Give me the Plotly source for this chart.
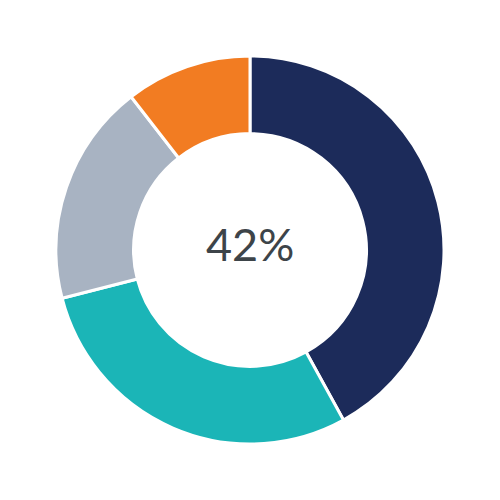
import plotly.graph_objects as go

labels = ["A", "B", "C", "D"]
values = [42, 29, 18.5, 10.5]
colors = ["#1c2b5a", "#1bb5b7", "#a8b3c2", "#f27c22"]
center_label = "42%"

fig = go.Figure(go.Pie(
    labels=labels, values=values, hole=0.6, sort=False, direction="clockwise",
    rotation=0, marker=dict(colors=colors, line=dict(color="white", width=3)),
    textinfo="none", hoverinfo="skip", showlegend=False,
))
fig.add_annotation(text=center_label, x=0.5, y=0.5, xref="paper", yref="paper",
                   yshift=6, showarrow=False,
                   font=dict(family="Lato", size=45, color="#3d4449"))
fig.update_layout(width=500, height=500, margin=dict(l=48, r=64, t=48, b=64),
                  paper_bgcolor="white", plot_bgcolor="white")
fig.write_html("out.html")
